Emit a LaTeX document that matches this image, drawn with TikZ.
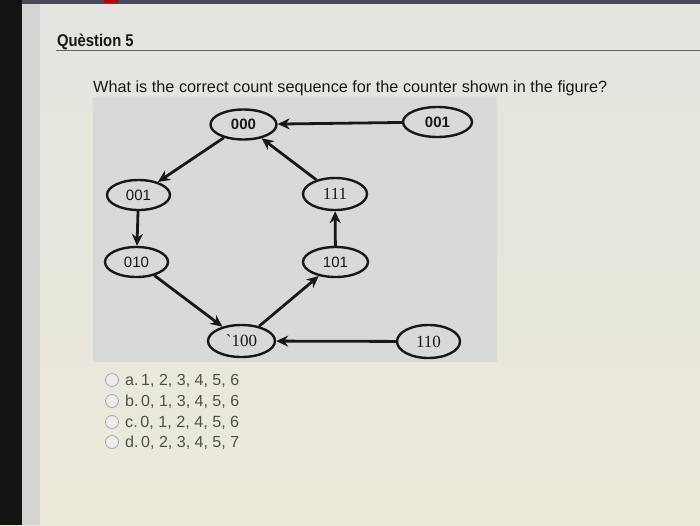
\documentclass[tikz,border=0pt]{standalone}
\usepackage{fontspec}
\setmainfont{Liberation Sans}
\newfontfamily\serifnum{Liberation Serif}
\usetikzlibrary{arrows.meta,shapes.geometric}
\definecolor{pagetop}{RGB}{228,228,224}
\definecolor{pagebot}{RGB}{235,233,216}
\definecolor{panel}{RGB}{216,217,219}
\definecolor{ink}{RGB}{24,24,24}
\definecolor{optgray}{RGB}{80,80,80}
\definecolor{bezel}{RGB}{212,212,210}
\definecolor{topbar}{RGB}{70,74,90}
\tikzset{
  st/.style={ellipse, draw=ink, line width=2.4pt, minimum width=66pt, minimum height=30pt, inner sep=0pt, text=ink, font=\fontsize{15}{17}\selectfont},
  arr/.style={-{Stealth[length=12pt,width=11pt]}, line width=2.8pt, draw=ink},
  radio/.style={circle, draw=gray!70, fill=white!85!gray, line width=0.8pt, minimum size=13pt, inner sep=0pt},
  opt/.style={anchor=base west, text=optgray, inner sep=0pt}
}
\begin{document}
\begin{tikzpicture}[x=1pt,y=-1pt]
\useasboundingbox (0,0) rectangle (700,525);
\shade[top color=pagetop, bottom color=pagebot] (0,0) rectangle (700,525);
\fill[black!92] (0,0) rectangle (22,525);
\fill[bezel] (22,0) rectangle (40,525);
\fill[topbar] (22,0) rectangle (700,4);
\fill[red!75!black] (104,0) rectangle (118,3);
% title
\node[anchor=base west, inner sep=0pt, text=ink, font=\bfseries\fontsize{17}{19}\selectfont] (title) at (57,46.5) {\scalebox{0.87}[1]{Quèstion 5}};
\coordinate (ruleL) at (56,50);
\coordinate (ruleR) at (700,50);
\draw[gray!80!black, line width=0.8pt] (ruleL) -- (ruleR);
\node[anchor=base west, inner sep=0pt, text=ink] (q) at (93,92) {\resizebox{514pt}{!}{\fontsize{15}{18}\selectfont What is the correct count sequence for the counter shown in the figure?}};
% panel
\fill[panel] (93,97) rectangle (497,362);
% states
\node[st, font=\bfseries\fontsize{15}{17}\selectfont] (s000) at (243.5,124.5) {000};
\node[st, minimum width=69pt, font=\bfseries\fontsize{15}{17}\selectfont] (s001t) at (437.5,122) {001};
\node[st, minimum width=63pt] (s001l) at (138.5,195) {001};
\node[st, minimum width=63pt] (s010) at (136.5,262) {010};
\node[st, minimum width=64pt, minimum height=32pt, font=\serifnum\fontsize{17}{19}\selectfont] (s111) at (335,194) {111};
\node[st, minimum width=65pt] (s101) at (335.5,262) {101};
\node[st, minimum width=67pt, minimum height=32pt, font=\serifnum\fontsize{17}{19}\selectfont] (s100) at (241.5,341) {\textasciigrave100};
\node[st, minimum width=63pt, minimum height=33pt, font=\serifnum\fontsize{17}{19}\selectfont] (s110) at (428.5,341.5) {110};
% transitions
\draw[arr] (s001t) -- (s000);
\draw[arr] (s000) -- (s001l);
\draw[arr] (s001l) -- (s010);
\draw[arr] (s010) -- (s100);
\draw[arr] (s100) -- (s101);
\draw[arr] (s101) -- (s111);
\draw[arr] (s111) -- (s000);
\draw[arr] (s110) -- (s100);
% options
\node[radio] (ra) at (112,380) {};
\node[radio] (rb) at (112,401) {};
\node[radio] (rc) at (112,422) {};
\node[radio] (rd) at (112,442) {};
\node[opt] (oa) at (125,385.5) {\resizebox{114pt}{!}{\fontsize{14}{16}\selectfont a.\,1, 2, 3, 4, 5, 6}};
\node[opt] (ob) at (125,406) {\resizebox{114pt}{!}{\fontsize{14}{16}\selectfont b.\,0, 1, 3, 4, 5, 6}};
\node[opt] (oc) at (125,427) {\resizebox{114pt}{!}{\fontsize{14}{16}\selectfont c.\,0, 1, 2, 4, 5, 6}};
\node[opt] (od) at (125,447.5) {\resizebox{114pt}{!}{\fontsize{14}{16}\selectfont d.\,0, 2, 3, 4, 5, 7}};
\end{tikzpicture}
\end{document}
